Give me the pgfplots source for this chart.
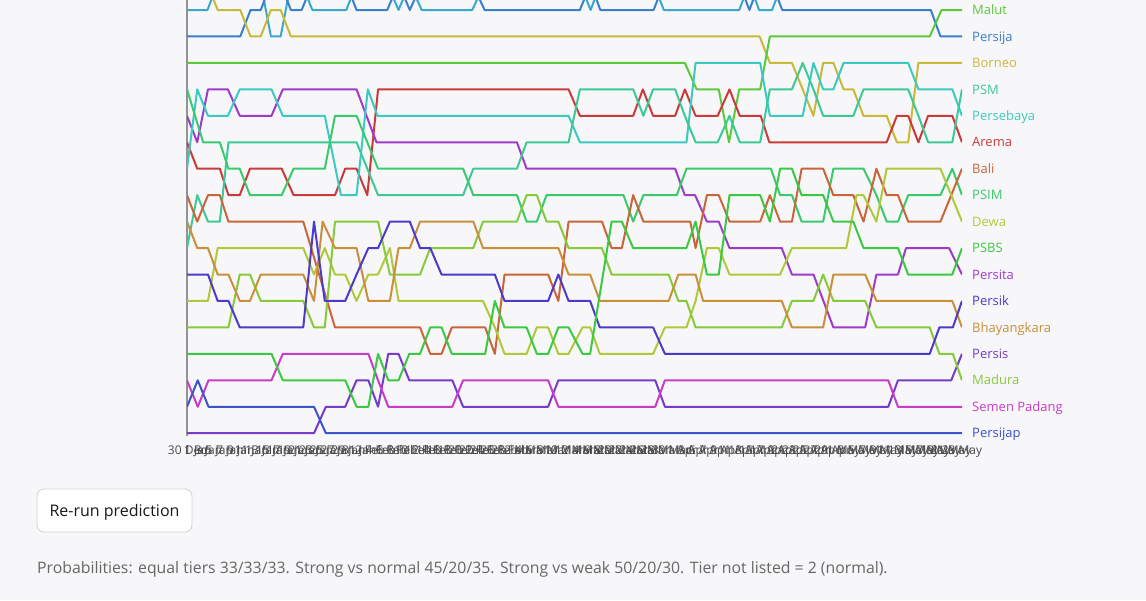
\documentclass[border=0pt]{standalone}
\usepackage{fontspec}
\setmainfont{Open Sans}
\usepackage{pgfplots}
\pgfplotsset{compat=1.18}
\definecolor{bg}{HTML}{F7F7F9}
\definecolor{cArema}{HTML}{C93B3B}
\definecolor{cBali}{HTML}{C9653B}
\definecolor{cBhay}{HTML}{C98F3B}
\definecolor{cBorneo}{HTML}{C9B93B}
\definecolor{cDewa}{HTML}{B0C93B}
\definecolor{cMadura}{HTML}{86C93B}
\definecolor{cMalut}{HTML}{5CC93B}
\definecolor{cPSBS}{HTML}{3BC943}
\definecolor{cPSIM}{HTML}{3BC96D}
\definecolor{cPSM}{HTML}{3BC997}
\definecolor{cPersebaya}{HTML}{3BC9C1}
\definecolor{cPersib}{HTML}{3BA8C9}
\definecolor{cPersija}{HTML}{3B7EC9}
\definecolor{cPersijap}{HTML}{3B54C9}
\definecolor{cPersik}{HTML}{4C3BC9}
\definecolor{cPersis}{HTML}{763BC9}
\definecolor{cPersita}{HTML}{9F3BC9}
\definecolor{cSemen}{HTML}{C93BC9}
\definecolor{tick}{HTML}{4A4A4A}
\begin{document}
\begin{tikzpicture}[x=1pt,y=1pt]
\fill[bg] (0,0) rectangle (1146,600);
\begin{axis}[at={(187pt,164pt)},anchor=south west,scale only axis,
  width=775pt,height=436pt,xmin=0,xmax=144,ymin=1.6219,ymax=18.106,y dir=reverse,
  axis lines=left, axis line style={-}, x axis line style={draw=none},
  y axis line style={draw=gray!85,line width=1.5pt},
  ytick=\empty, major tick length=0pt,
  xtick={0,2,...,144},
  xticklabels={30 Dec,1 Jan,3 Jan,5 Jan,7 Jan,9 Jan,11 Jan,13 Jan,15 Jan,17 Jan,19 Jan,21 Jan,23 Jan,25 Jan,27 Jan,29 Jan,31 Jan,2 Feb,4 Feb,6 Feb,8 Feb,10 Feb,12 Feb,14 Feb,16 Feb,18 Feb,20 Feb,22 Feb,24 Feb,26 Feb,28 Feb,2 Mar,4 Mar,6 Mar,8 Mar,10 Mar,12 Mar,14 Mar,16 Mar,18 Mar,20 Mar,22 Mar,24 Mar,26 Mar,28 Mar,30 Mar,1 Apr,3 Apr,5 Apr,7 Apr,9 Apr,11 Apr,13 Apr,15 Apr,17 Apr,19 Apr,21 Apr,23 Apr,25 Apr,27 Apr,29 Apr,1 May,3 May,5 May,7 May,9 May,11 May,13 May,15 May,17 May,19 May,21 May,23 May},
  xticklabel style={font=\fontsize{12}{14}\selectfont,text=tick,yshift=-6pt},
  clip=true,
  every axis plot/.append style={line width=2pt,no marks,line join=round},
  ]
% Persib
\addplot[cPersib] coordinates {(0,2)(3.8,2)(5.7,1)(13.7,1)(15.6,3)(17.4,3)(19.3,1)(21.3,1)(23.3,2)(29.6,2)(31.5,1)(37.2,1)(39.3,2)(41.4,1)(43.6,2)(53,2)(55.3,1)(73,1)(75,2)(76.8,1)(86.7,1)(88.6,2)(102.6,2)(104.5,1)(106.3,2)(108.7,2)(110.6,1)(144,1)};
% Persija
\addplot[cPersija] coordinates {(0,3)(9.9,3)(11.8,2)(13.7,2)(15.6,1)(17.4,1)(19.3,2)(21.3,2)(23.3,1)(29.6,1)(31.5,2)(37.2,2)(39.3,1)(41.4,2)(43.6,1)(53,1)(55.3,2)(73,2)(75,1)(76.8,2)(86.7,2)(88.6,1)(102.6,1)(104.5,2)(106.3,1)(108.7,1)(110.6,2)(138.2,2)(140,3)(144,3)};
% Borneo
\addplot[cBorneo] coordinates {(0,1)(3.8,1)(5.7,2)(9.9,2)(11.8,3)(13.7,3)(15.6,2)(17.4,2)(19.3,3)(106.4,3)(108.3,4)(112.4,4)(114.4,5)(116.4,6)(118.2,4)(120.1,4)(122,5)(123.8,5)(125.7,6)(130,6)(131.9,7)(134,7)(135.9,4)(144,4)};
% Malut
\addplot[cMalut] coordinates {(0,4)(92.5,4)(94.7,5)(98.8,5)(100.7,7)(102.6,5)(106.5,5)(108.3,3)(138,3)(140.2,2)(144,2)};
% Arema
\addplot[cArema] coordinates {(0,7)(1.9,8)(6.1,8)(7.7,9)(9.8,9)(11.7,8)(17.6,8)(19.8,9)(27.5,9)(29.4,8)(31.5,8)(33.5,9)(35.5,5)(70.9,5)(73,6)(82.9,6)(84.7,5)(86.6,6)(90.7,6)(92.5,5)(94.5,6)(98.6,6)(100.8,5)(102.7,6)(106.6,6)(108.2,7)(130,7)(131.9,6)(134,6)(135.9,7)(137.7,6)(142.2,6)(144,7)};
% Persita
\addplot[cPersita] coordinates {(0,6)(1.9,7)(3.9,5)(7.6,5)(9.8,6)(15.7,6)(17.8,5)(31.5,5)(35.2,7)(61.3,7)(63.1,8)(90.7,8)(92.5,9)(94.4,9)(96.6,10)(98.8,10)(100.8,11)(110.5,11)(112.4,12)(116.4,12)(120.1,14)(126,14)(128.1,12)(132.1,12)(133.6,11)(141.6,11)(144,12)};
% Persis
\addplot[cPersis] coordinates {(0,18)(23.6,18)(25.8,17)(29.4,17)(31.5,16)(33.7,16)(35.5,17)(37.4,15)(39.3,15)(41.3,16)(49.3,16)(51.3,17)(67.1,17)(69,16)(87,16)(88.8,17)(130.3,17)(132.1,16)(142,16)(144,15)};
% Semen Padang
\addplot[cSemen] coordinates {(0,16)(2,17)(4,16)(15.7,16)(17.8,15)(33.7,15)(35.5,16)(37.4,17)(49.3,17)(51.3,16)(67.1,16)(69,17)(87,17)(88.8,16)(130.3,16)(132.1,17)(144,17)};
% Persijap
\addplot[cPersijap] coordinates {(0,17)(2,16)(4,17)(23.6,17)(25.8,18)(144,18)};
% Persebaya
\addplot[cPersebaya] coordinates {(0,8)(1.9,5)(3.9,6)(7.6,6)(9.8,5)(15.7,5)(17.8,6)(25.6,6)(28.6,9)(31.5,9)(33.6,5)(35.4,6)(70.9,6)(73,7)(92.8,7)(94.5,4)(106.5,4)(108.3,6)(114.4,6)(116.4,4)(118.2,5)(120.1,5)(122,4)(134,4)(135.9,5)(142.2,5)(144,6)};
% PSM
\addplot[cPSM] coordinates {(0,11)(1.9,9)(3.9,10)(6.1,10)(7.7,7)(31.5,7)(35.5,9)(51.3,9)(53.2,8)(61.3,8)(63.1,7)(70.9,7)(73,5)(82.9,5)(84.8,6)(86.6,5)(90.7,5)(92.5,6)(94.5,7)(98.6,7)(100.8,6)(102.7,7)(106.5,7)(108.3,5)(112.4,5)(114.4,4)(116.4,5)(118.2,6)(123.8,6)(125.7,5)(134,5)(135.9,6)(137.7,7)(142.2,7)(144,5)};
% PSIM
\addplot[cPSIM] coordinates {(0,5)(3,7)(6.1,7)(7.7,8)(9.8,8)(11.7,9)(17.6,9)(19.8,8)(25.6,8)(27.5,6)(31.5,6)(35.5,8)(51.3,8)(53.2,9)(61.3,9)(63.1,10)(65,10)(66.8,9)(81.1,9)(82.9,10)(84.8,9)(91,9)(92.8,8)(108.5,8)(110.2,9)(112.4,9)(114.2,10)(118.2,10)(120.1,8)(125.7,8)(128.1,9)(130,10)(132.1,10)(134,9)(140,9)(142.2,8)(144,9)};
% Bali
\addplot[cBali] coordinates {(0,9)(1.9,10)(3.9,9)(6.1,9)(7.7,10)(21.6,10)(27.5,14)(43.3,14)(45.2,15)(47.3,15)(49.2,14)(55.4,14)(57.2,15)(59,12)(67.1,12)(69,13)(70.9,10)(77.1,10)(78.9,11)(80.8,11)(82.9,9)(84.8,10)(93.5,10)(94.5,11)(96.6,9)(98.8,9)(100.8,10)(106.5,10)(108.3,9)(110.2,10)(112.4,10)(114.2,8)(118.2,8)(120.1,9)(123.8,9)(125.7,10)(128.1,8)(130,9)(132.1,9)(134,10)(140,10)(144,8)};
% Dewa
\addplot[cDewa] coordinates {(0,13)(3.9,13)(5.7,11)(21.6,11)(23.6,12)(25.6,11)(27.5,12)(29.4,12)(31.5,13)(33.7,12)(35.5,12)(37.7,11)(39.3,13)(55,13)(57.2,14)(59,15)(63.1,15)(65,14)(67.1,14)(69,15)(70.9,15)(73.5,14)(74.9,14)(76.7,15)(86.6,15)(88.8,14)(92.8,14)(94.5,13)(96.6,11)(98.8,11)(100.8,12)(110.2,12)(112.4,11)(122.5,11)(124.4,9)(125.7,9)(128.1,10)(130,8)(140,8)(144,10)};
% Madura
\addplot[cMadura] coordinates {(0,14)(7.7,14)(9.8,12)(11.7,12)(13.7,13)(21.6,13)(23.6,14)(25.6,14)(27.5,10)(35.5,10)(37.7,12)(43.3,12)(45.2,11)(53.2,11)(55,10)(61.3,10)(63.1,9)(65,9)(66.8,10)(69,10)(70.9,11)(77.1,11)(78.9,12)(89.5,12)(91.3,13)(92.8,13)(94.5,14)(110.5,14)(112.4,13)(116.4,13)(118.2,12)(120.1,13)(126,13)(128.1,14)(138,14)(139.8,15)(142.3,15)(144,16)};
% Bhayangkara
\addplot[cBhay] coordinates {(0,10)(1.9,11)(3.9,11)(5.7,12)(7.7,12)(9.8,13)(11.7,13)(13.7,12)(21.6,12)(23.6,13)(25.2,10)(27.5,11)(31.5,11)(33.7,13)(37.7,13)(39.3,11)(41.4,11)(43.3,10)(53.2,10)(55,11)(69,11)(70.9,12)(74.9,12)(76.7,13)(89.5,13)(91.3,12)(94.5,12)(95.9,13)(110.5,13)(112.4,14)(118.2,14)(120.1,12)(126,12)(128.1,13)(142.2,13)(144,14)};
% Persik
\addplot[cPersik] coordinates {(0,12)(3.9,12)(5.7,13)(7.7,13)(9.8,14)(21.6,14)(23.6,10)(25.6,13)(29.4,13)(31.5,12)(33.7,11)(35.5,11)(37.7,10)(41.4,10)(43.3,11)(45.2,11)(47.3,12)(57.2,12)(59,13)(67.1,13)(69,12)(70.9,13)(74.9,13)(76.7,14)(86.6,14)(88.8,15)(138,15)(139.8,14)(142.3,14)(144,13)};
% PSBS
\addplot[cPSBS] coordinates {(0,15)(15.7,15)(17.8,16)(29.4,16)(31.5,17)(33.7,17)(35.5,15)(37.4,16)(39.3,16)(41.3,15)(43.3,15)(45.2,14)(47.3,14)(49.2,15)(55.4,15)(57.2,13)(59,14)(63.1,14)(65,15)(67.1,15)(69,14)(70.9,14)(73.5,15)(74.9,15)(78.9,10)(80.8,10)(82.9,11)(92.8,11)(94.5,10)(96.6,12)(98.8,12)(100.8,9)(106.5,9)(108.3,10)(110.2,8)(112.4,8)(114.2,9)(118.2,9)(120.1,10)(123.8,10)(125.7,11)(132.1,11)(134,12)(142.2,12)(144,11)};
\end{axis}
\begin{scope}[font=\fontsize{13}{15}\selectfont,every node/.style={anchor=base west,inner sep=0pt}]
\node[text=cMalut] at (972,585.3) {Malut};
\node[text=cPersija] at (972,558.8) {Persija};
\node[text=cBorneo] at (972,532.4) {Borneo};
\node[text=cPSM] at (972,505.9) {PSM};
\node[text=cPersebaya] at (972,479.5) {Persebaya};
\node[text=cArema] at (972,453) {Arema};
\node[text=cBali] at (972,426.6) {Bali};
\node[text=cPSIM] at (972,400.1) {PSIM};
\node[text=cDewa] at (972,373.7) {Dewa};
\node[text=cPSBS] at (972,347.2) {PSBS};
\node[text=cPersita] at (972,320.8) {Persita};
\node[text=cPersik] at (972,294.3) {Persik};
\node[text=cBhay] at (972,267.9) {Bhayangkara};
\node[text=cPersis] at (972,241.4) {Persis};
\node[text=cMadura] at (972,215) {Madura};
\node[text=cSemen] at (972,188.5) {Semen Padang};
\node[text=cPersijap] at (972,162.1) {Persijap};
\end{scope}
\draw[rounded corners=7pt,draw=black!18,fill=white,line width=0.8pt] (37,68) rectangle (192,111);
\node[font=\fontsize{16}{18}\selectfont,text=black!90] at (114.5,87.5) {Re-run prediction};
\node[anchor=base west,inner sep=0pt,font=\fontsize{15.8}{18}\selectfont,text=black!60] at (37,27) {Probabilities: equal tiers 33/33/33. Strong vs normal 45/20/35. Strong vs weak 50/20/30. Tier not listed = 2 (normal).};
\pgfresetboundingbox
\useasboundingbox (0,0) rectangle (1146,600);
\end{tikzpicture}
\end{document}
